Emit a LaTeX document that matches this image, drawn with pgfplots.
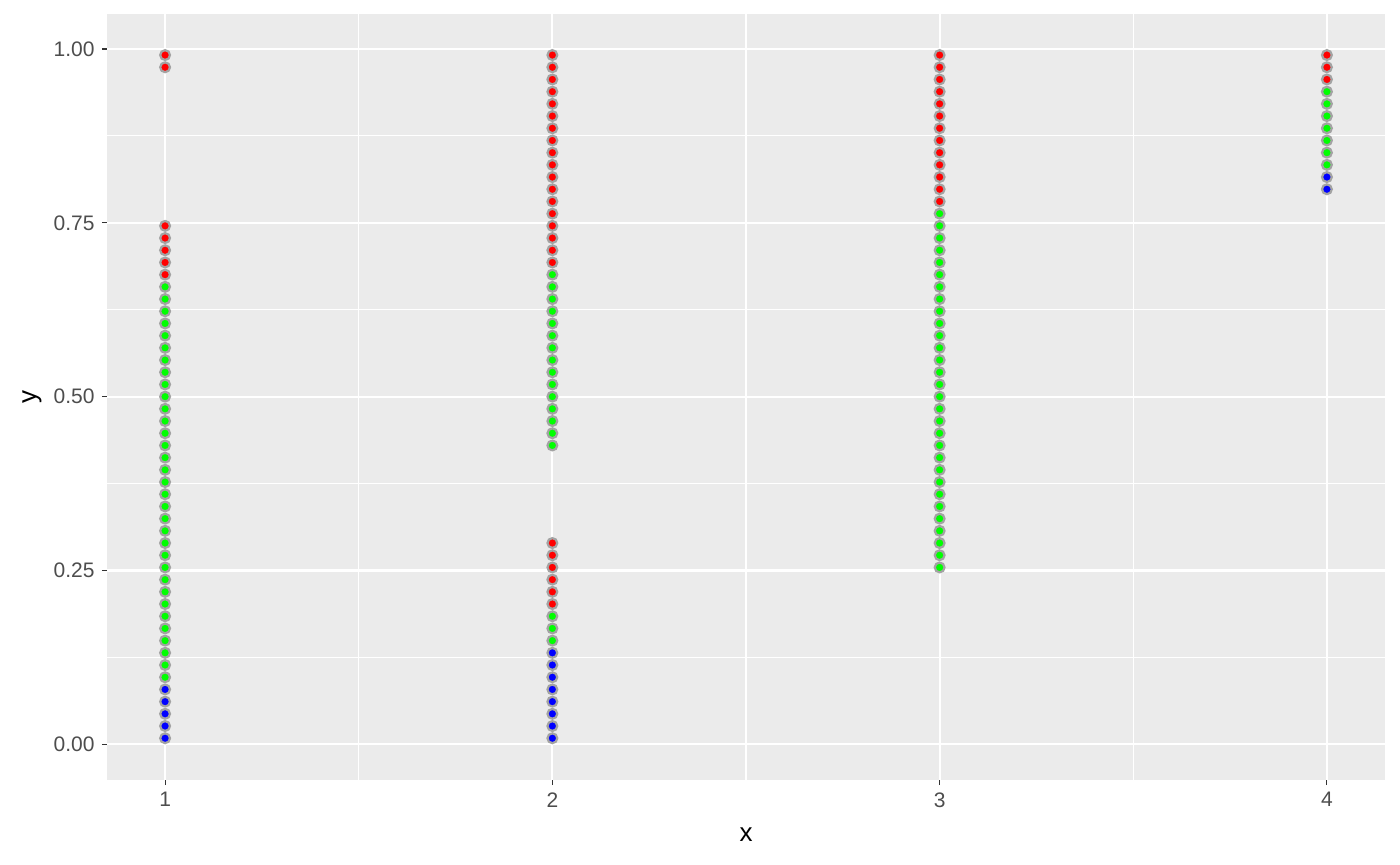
\documentclass[border=0pt]{standalone}
\usepackage{pgfplots}
\pgfplotsset{compat=1.18}
\usepackage{fontspec}
\setmainfont{Liberation Sans}
\definecolor{panelbg}{HTML}{EBEBEB}
\definecolor{tickcol}{HTML}{333333}
\definecolor{ticklab}{HTML}{4D4D4D}
\definecolor{ring}{HTML}{A3A3A3}
\definecolor{pred}{HTML}{FF0000}
\definecolor{pgreen}{HTML}{00FF00}
\definecolor{pblue}{HTML}{0000FF}
\begin{document}
\begin{tikzpicture}
\begin{axis}[
  scale only axis,
  width=639bp, height=383bp,
  xmin=0.85, xmax=4.15,
  ymin=-0.0513, ymax=1.0503,
  axis background/.style={fill=panelbg},
  axis line style={draw=none},
  clip=false,
  tick pos=left,
  tick align=outside,
  major tick length=2.5bp,
  minor tick length=0pt,
  every tick/.style={tickcol, line width=0.55bp},
  xtick={1,2,3,4},
  xticklabels={1,2,3,4},
  ytick={0,0.25,0.5,0.75,1},
  yticklabels={0.00,0.25,0.50,0.75,1.00},
  minor xtick={1.5,2.5,3.5},
  minor ytick={0.125,0.375,0.625,0.875},
  grid=both,
  major grid style={white, line width=1.1bp},
  minor grid style={white, line width=0.55bp},
  ticklabel style={font=\fontsize{10.5bp}{12bp}\selectfont, text=ticklab},
  yticklabel style={anchor=east, inner sep=0pt, xshift=-3.5bp},
  xticklabel style={anchor=north, inner sep=0pt, yshift=-3.5bp},
  ringmark/.style={only marks, mark=*, mark size=2.45bp,
     mark options={draw=ring, line width=1.1bp, fill=#1}},
]
% blue
\addplot[ringmark=pblue] coordinates {
 (1,0.00877) (1,0.02632) (1,0.04386) (1,0.06140) (1,0.07895)
 (2,0.00877) (2,0.02632) (2,0.04386) (2,0.06140) (2,0.07895) (2,0.09649) (2,0.11404) (2,0.13158)
 (4,0.79825) (4,0.81579)
};
% green
\addplot[ringmark=pgreen] coordinates {
 (1,0.09649) (1,0.11404) (1,0.13158) (1,0.14912) (1,0.16667) (1,0.18421) (1,0.20175) (1,0.21930)
 (1,0.23684) (1,0.25439) (1,0.27193) (1,0.28947) (1,0.30702) (1,0.32456) (1,0.34211) (1,0.35965)
 (1,0.37719) (1,0.39474) (1,0.41228) (1,0.42982) (1,0.44737) (1,0.46491) (1,0.48246) (1,0.50000)
 (1,0.51754) (1,0.53509) (1,0.55263) (1,0.57018) (1,0.58772) (1,0.60526) (1,0.62281) (1,0.64035)
 (1,0.65789)
 (2,0.14912) (2,0.16667) (2,0.18421)
 (2,0.42982) (2,0.44737) (2,0.46491) (2,0.48246) (2,0.50000) (2,0.51754) (2,0.53509) (2,0.55263)
 (2,0.57018) (2,0.58772) (2,0.60526) (2,0.62281) (2,0.64035) (2,0.65789) (2,0.67544)
 (3,0.25439) (3,0.27193) (3,0.28947) (3,0.30702) (3,0.32456) (3,0.34211) (3,0.35965) (3,0.37719)
 (3,0.39474) (3,0.41228) (3,0.42982) (3,0.44737) (3,0.46491) (3,0.48246) (3,0.50000) (3,0.51754)
 (3,0.53509) (3,0.55263) (3,0.57018) (3,0.58772) (3,0.60526) (3,0.62281) (3,0.64035) (3,0.65789)
 (3,0.67544) (3,0.69298) (3,0.71053) (3,0.72807) (3,0.74561) (3,0.76316)
 (4,0.83333) (4,0.85088) (4,0.86842) (4,0.88596) (4,0.90351) (4,0.92105) (4,0.93860)
};
% red
\addplot[ringmark=pred] coordinates {
 (1,0.67544) (1,0.69298) (1,0.71053) (1,0.72807) (1,0.74561) (1,0.97368) (1,0.99123)
 (2,0.20175) (2,0.21930) (2,0.23684) (2,0.25439) (2,0.27193) (2,0.28947)
 (2,0.69298) (2,0.71053) (2,0.72807) (2,0.74561) (2,0.76316) (2,0.78070) (2,0.79825) (2,0.81579)
 (2,0.83333) (2,0.85088) (2,0.86842) (2,0.88596) (2,0.90351) (2,0.92105) (2,0.93860) (2,0.95614)
 (2,0.97368) (2,0.99123)
 (3,0.78070) (3,0.79825) (3,0.81579) (3,0.83333) (3,0.85088) (3,0.86842) (3,0.88596) (3,0.90351)
 (3,0.92105) (3,0.93860) (3,0.95614) (3,0.97368) (3,0.99123)
 (4,0.95614) (4,0.97368) (4,0.99123)
};
\node[anchor=center, font=\fontsize{13bp}{15bp}\selectfont] at ([yshift=-27.5bp]rel axis cs:0.5,0) {x};
\node[anchor=center, rotate=90, font=\fontsize{13bp}{15bp}\selectfont] at ([xshift=-37.5bp]rel axis cs:0,0.5) {y};
\end{axis}
\path ([xshift=-53.5bp,yshift=-42.5bp]current axis.south west) rectangle ([xshift=7.5bp,yshift=7bp]current axis.north east);
\end{tikzpicture}
\end{document}
